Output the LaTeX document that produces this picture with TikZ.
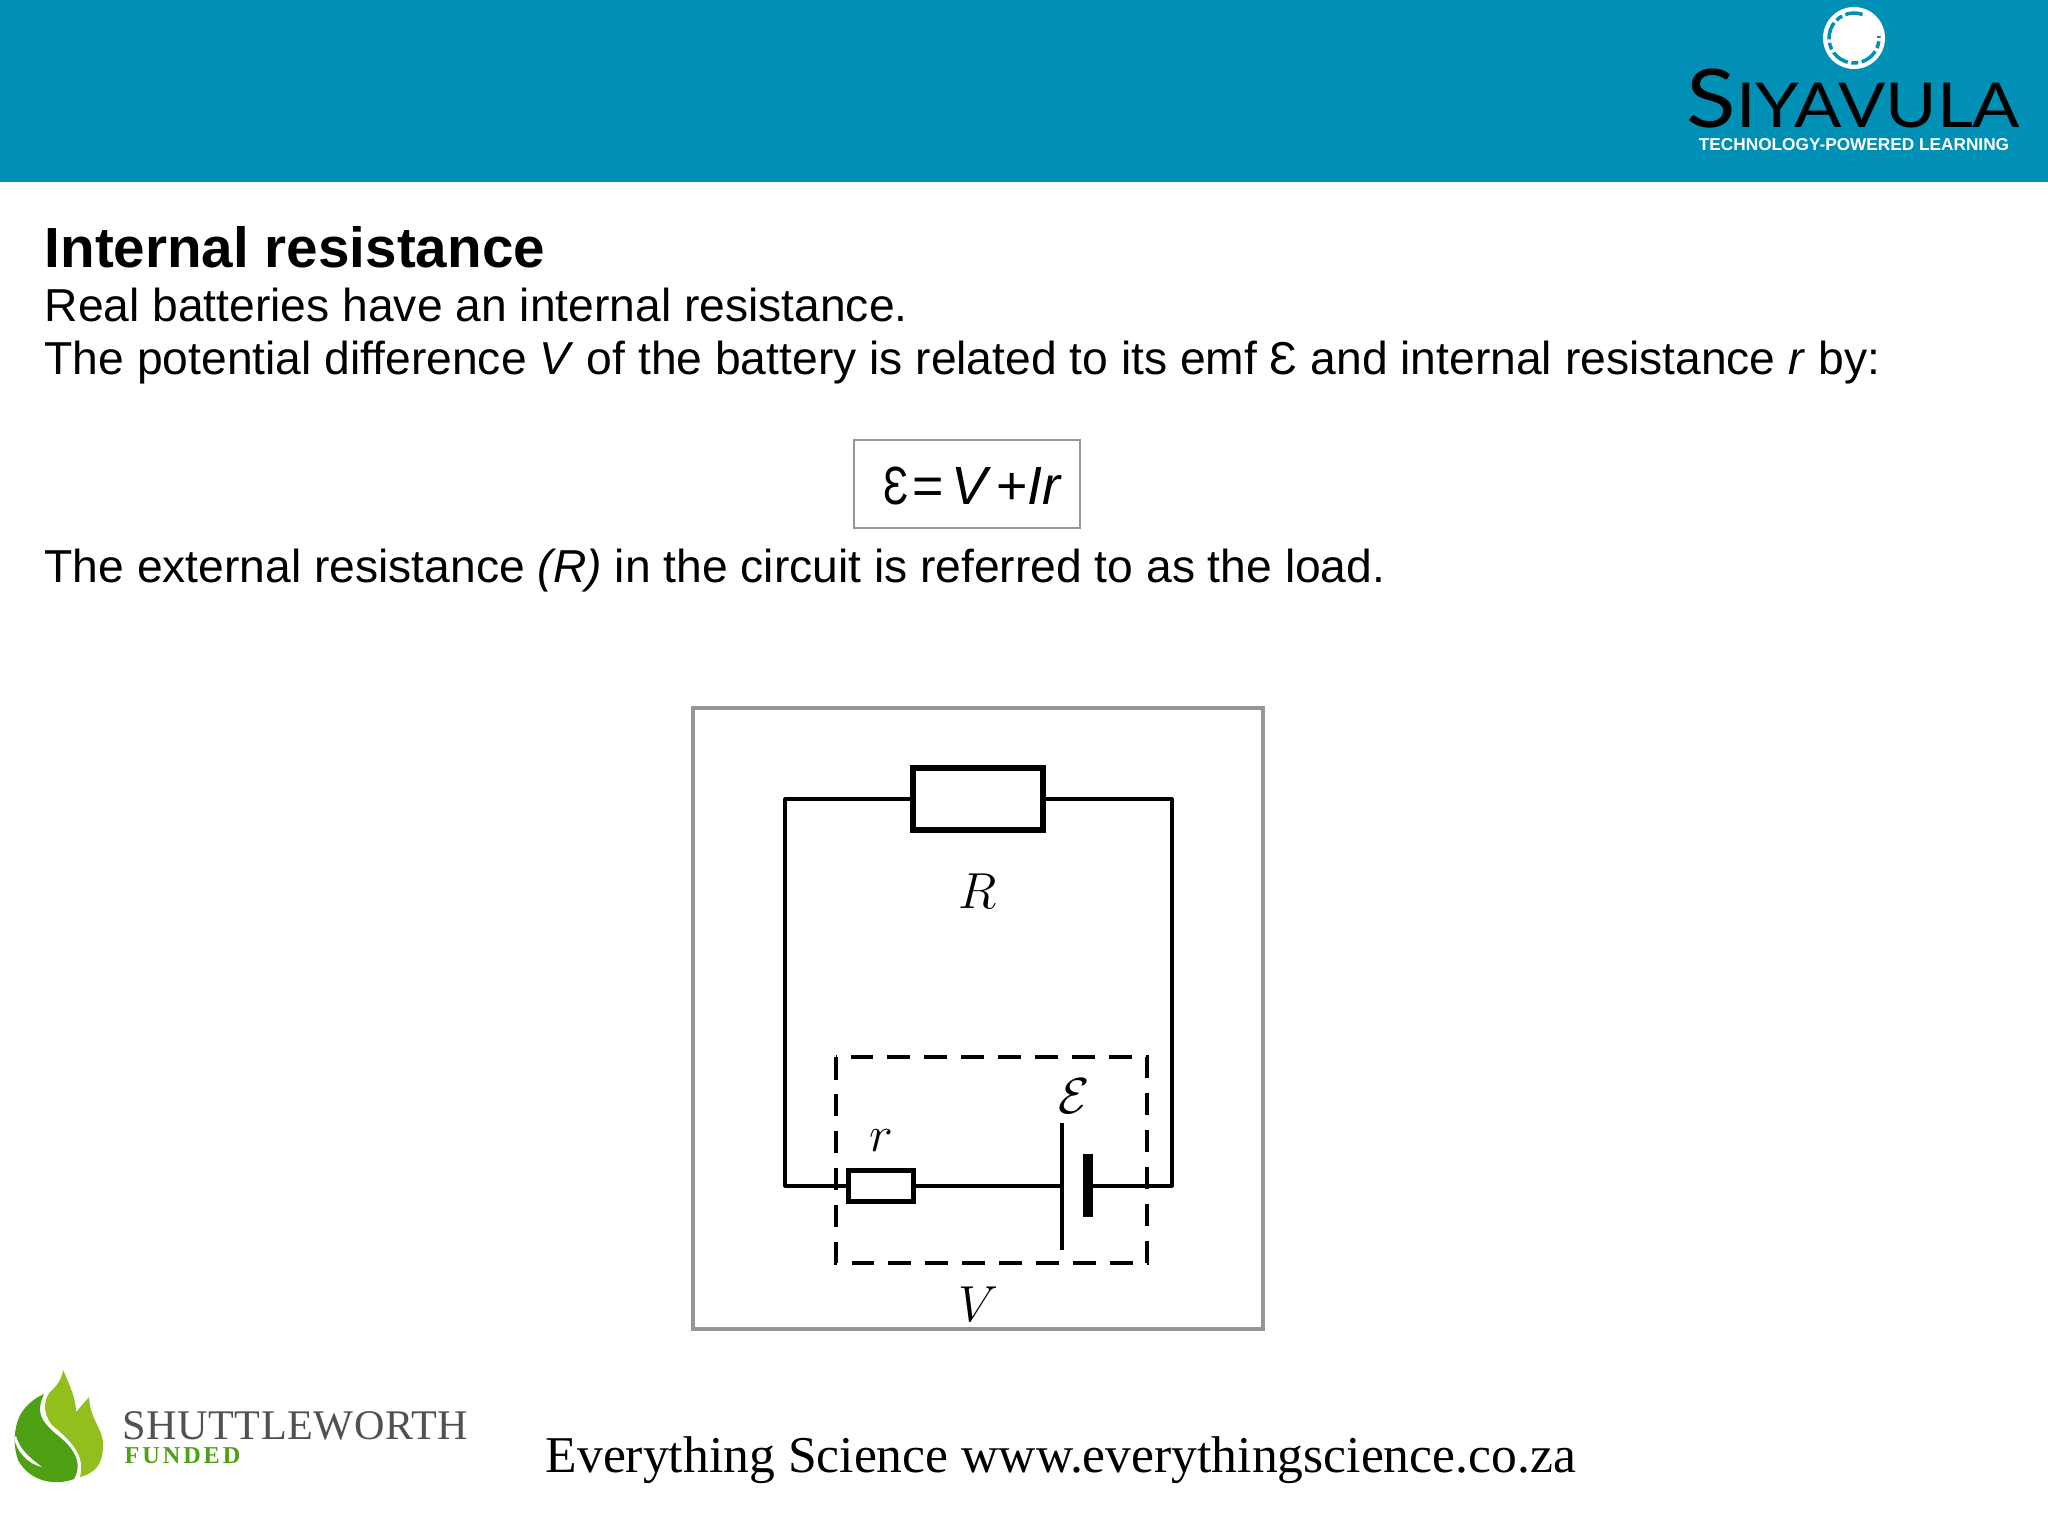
\documentclass[tikz,border=0pt]{standalone}
\usepackage{graphicx}
\usepackage{fontspec}
\setmainfont{Liberation Sans}
\newfontfamily\serifface{Liberation Serif}
\newfontfamily\logoface{Lato}
\usetikzlibrary{calc}
\definecolor{bannerblue}{RGB}{0,143,181}
\definecolor{framegray}{RGB}{150,150,150}
\definecolor{leafdark}{RGB}{78,160,20}
\definecolor{leaflight}{RGB}{146,190,30}
\definecolor{wordgray}{RGB}{80,80,85}
\tikzset{
	textline/.style={anchor=base west, inner sep=0pt, font=\fontsize{13.14}{16}\selectfont},
	wire/.style={line width=0.9pt, line join=round},
	load/.style={draw, line width=1.5pt, fill=white, inner sep=0pt, minimum height=0.62cm},
	symbol/.style={inner sep=0pt, font=\fontsize{14}{17}\selectfont},
}

\begin{document}
\begin{tikzpicture}[x=0.01cm, y=-0.01cm]
		%%%%% START %%%%%
		\useasboundingbox (0, 0) rectangle (2048, 1535);
		\fill[bannerblue] (0, 0) rectangle (2048, 182);
		
		% logo top right
		\fill[white] (1854, 38) circle (31);
		\draw[bannerblue, line width=1pt, dash pattern=on 5pt off 1pt on 2pt off 1pt] (1854, 38) ++(-70:25) arc (-70:-365:25);
		\node[anchor=base west, inner sep=0pt, font=\logoface\fontsize{23}{26}\selectfont] (logotext) at (1686, 127)
			{\addfontfeature{FakeStretch=1.13}S\fontsize{17.6}{20}\selectfont IYAVULA};
		\node[anchor=base, inner sep=0pt, text=white, font=\bfseries\fontsize{4.9}{7}\selectfont] (logotag) at (1854, 150) {TECHNOLOGY-POWERED LEARNING};
		
		% text
		\node[textline, font=\bfseries\fontsize{16.1}{19}\selectfont] (heading) at (44, 267) {Internal resistance};
		\node[textline] (lineone) at (44, 321) {Real batteries have an internal resistance.};
		\node[textline] (linetwo) at (44, 374) {The potential difference \textit{V} of the battery is related to its emf Ɛ and internal resistance \textit{r} by:};
		\node[textline] (linethree) at (44, 582) {The external resistance \textit{(R)} in the circuit is referred to as the load.};
		
		\draw[framegray, line width=0.4pt] (854, 440) rectangle (1080, 528);
		\node[anchor=base west, inner sep=0pt, font=\fontsize{15.3}{19}\selectfont] (formula) at (883, 504) {\scalebox{0.78}[1]{Ɛ}\kern1pt=\kern2pt\textit{V}\kern1.5pt+\textit{Ir}};
		
		% circuit
		\draw[framegray, line width=0.9pt] (693, 708) rectangle (1263, 1329);
		
		\node[load, minimum width=1.3cm] (resR) at (978, 799) {};
		\node[load, line width=1.2pt, minimum width=0.65cm, minimum height=0.31cm] (resr) at (881, 1186) {};
		\coordinate (left) at (785, 1186);
		\coordinate (right) at (1172, 1186);
		\coordinate (plus) at (1062, 1186);
		\coordinate (minus) at (1088, 1186);
		
		\draw[wire] (resR.west) -| (left) -- (resr.west);
		\draw[wire] (resR.east) -| (right) -- (minus);
		\draw[wire] (resr.east) -- (plus);
		\draw[line width=1.4pt] (1062, 1123) -- (1062, 1250);
		\draw[line width=3pt] (1088, 1154) -- (1088, 1217);
		
		\draw[line width=0.9pt, dash pattern=on 6.4pt off 4.1pt] (836, 1057) rectangle (1147, 1263);
		
		\node[symbol] (labelR) at (978, 891) {$R$};
		\node[symbol] (labelr) at (881, 1141) {$r$};
		\node[symbol] (labelE) at (1074, 1096) {$\mathcal{E}$};
		\node[symbol] (labelV) at (978, 1304) {$V$};
		
		% flame bottom left
		\fill[leaflight] (63, 1370) .. controls (70, 1385) and (76, 1400) .. (76, 1412)
			-- (89, 1397) .. controls (90, 1420) and (104, 1430) .. (103, 1445)
			.. controls (103, 1465) and (95, 1473) .. (80, 1477)
			.. controls (86, 1455) and (70, 1440) .. (52, 1425)
			.. controls (42, 1412) and (44, 1400) .. (50, 1392)
			.. controls (58, 1385) and (62, 1378) .. (63, 1370) -- cycle;
		\fill[leafdark] (44, 1394) .. controls (36, 1412) and (40, 1420) .. (56, 1434)
			.. controls (72, 1446) and (84, 1462) .. (74, 1479)
			.. controls (55, 1486) and (30, 1482) .. (18, 1460)
			.. controls (14, 1448) and (13, 1435) .. (18, 1420)
			.. controls (22, 1408) and (34, 1398) .. (44, 1394) -- cycle;
		\fill[white] (14, 1438) .. controls (17, 1452) and (28, 1464) .. (42, 1467)
			.. controls (30, 1458) and (20, 1450) .. (16, 1436) -- cycle;
		\node[anchor=base west, inner sep=0pt, text=wordgray, font=\serifface\fontsize{12}{14}\selectfont] (shuttle) at (122, 1439) {\addfontfeature{LetterSpace=1.2}SHUTTLEWORTH};
		\node[anchor=base west, inner sep=0pt, text=leafdark, font=\serifface\bfseries\fontsize{6.9}{8}\selectfont] (funded) at (124, 1463) {\addfontfeature{LetterSpace=12}FUNDED};
		
		\node[anchor=base west, inner sep=0pt, font=\serifface\fontsize{14.68}{18}\selectfont] (footer) at (545, 1472) {Everything Science www.everythingscience.co.za};
		%%%%% END %%%%%
	\end{tikzpicture}
\end{document}
